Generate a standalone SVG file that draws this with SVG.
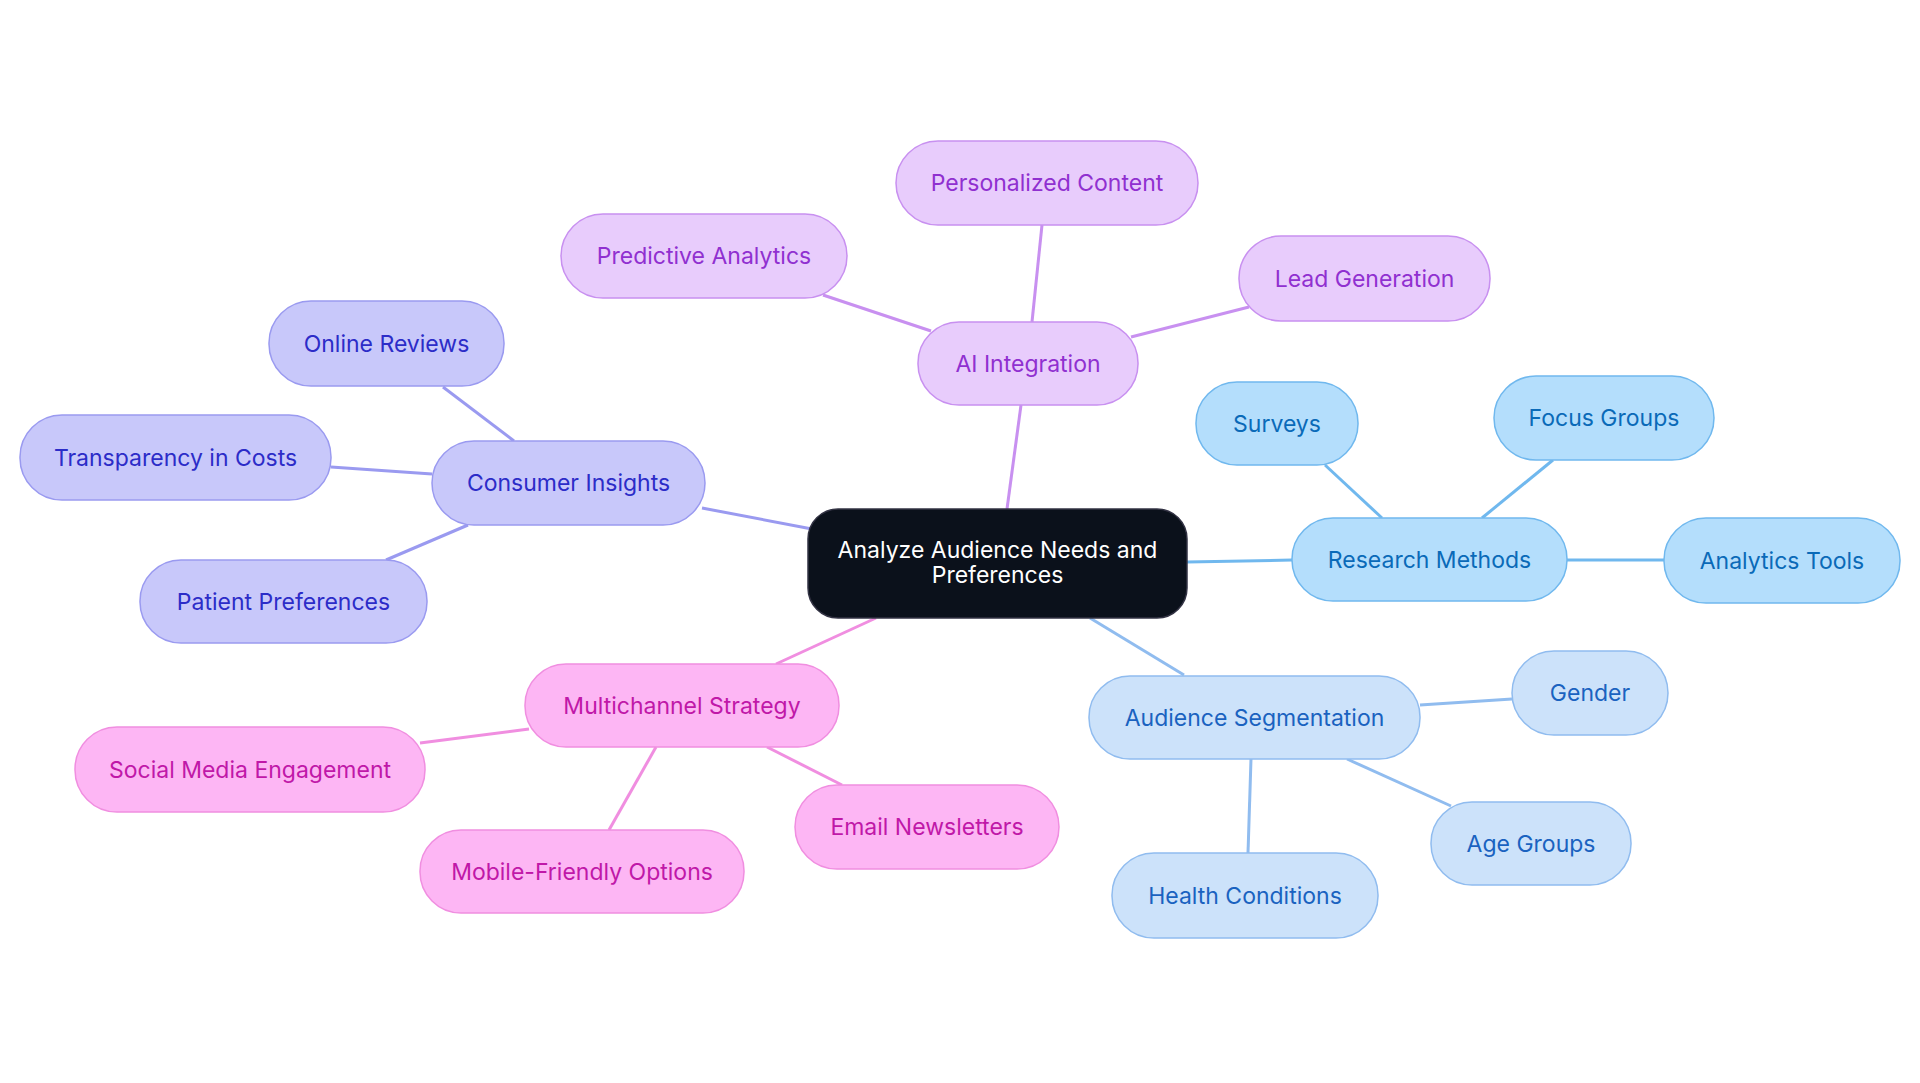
<svg xmlns="http://www.w3.org/2000/svg" width="1920" height="1083" viewBox="0 0 1920 1083">
<style>
text{font-family:Inter,"Noto Sans",sans-serif;font-size:23px;text-anchor:middle;dominant-baseline:central}
.n rect{stroke-width:1.5}
.ci rect{fill:#c8c8fa;stroke:#9a9af0}.ci text{fill:#2c2cc8}
.ai rect{fill:#e8ccfc;stroke:#c890f0}.ai text{fill:#9030d0}
.rm rect{fill:#b4defc;stroke:#70b8ee}.rm text{fill:#0a6ab8}
.as rect{fill:#cce2fa;stroke:#90bcef}.as text{fill:#1a62c0}
.ms rect{fill:#fdb6f4;stroke:#f08ee0}.ms text{fill:#c018a8}
#edges line{stroke-width:3}
.eci{stroke:#9a9af0}.eai{stroke:#c890f0}.erm{stroke:#70b8ee}.eas{stroke:#90bcef}.ems{stroke:#f08ee0}
</style>
<rect width="1920" height="1083" fill="#fff"/>
<g id="edges">
<line class="eci" x1="812" y1="529" x2="702" y2="508"/>
<line class="eci" x1="514" y1="441" x2="443" y2="387"/>
<line class="eci" x1="432" y1="474" x2="331" y2="467"/>
<line class="eci" x1="468" y1="525" x2="386" y2="560"/>
<line class="eai" x1="1007" y1="509" x2="1021" y2="405"/>
<line class="eai" x1="931" y1="331" x2="823" y2="295"/>
<line class="eai" x1="1032" y1="322" x2="1042" y2="225"/>
<line class="eai" x1="1131" y1="337" x2="1249" y2="307"/>
<line class="erm" x1="1187" y1="562" x2="1292" y2="560"/>
<line class="erm" x1="1382" y1="518" x2="1325" y2="465"/>
<line class="erm" x1="1482" y1="518" x2="1553" y2="460"/>
<line class="erm" x1="1567" y1="560" x2="1664" y2="560"/>
<line class="eas" x1="1090" y1="618" x2="1184" y2="675"/>
<line class="eas" x1="1420" y1="705" x2="1512" y2="699"/>
<line class="eas" x1="1347" y1="759" x2="1451" y2="806"/>
<line class="eas" x1="1251" y1="759" x2="1248" y2="853"/>
<line class="ems" x1="876" y1="618" x2="776" y2="664"/>
<line class="ems" x1="529" y1="729" x2="420" y2="743"/>
<line class="ems" x1="656" y1="747" x2="609" y2="830"/>
<line class="ems" x1="767" y1="747" x2="842" y2="785"/>
</g>
<g id="center"><rect x="808" y="509" width="379" height="109" rx="30" fill="#0b111b" stroke="#334" stroke-width="1.5"/><text x="997.5" y="550" fill="#fff">Analyze Audience Needs and</text><text x="997.5" y="575" fill="#fff">Preferences</text></g>
<g id="consumer-insights" class="n ci"><rect x="432" y="441" width="273" height="84" rx="42"/><text x="568.5" y="483">Consumer Insights</text></g>
<g id="online-reviews" class="n ci"><rect x="269" y="301" width="235" height="85" rx="42"/><text x="386.5" y="343.5">Online Reviews</text></g>
<g id="transparency" class="n ci"><rect x="20" y="415" width="311" height="85" rx="42"/><text x="175.5" y="457.5">Transparency in Costs</text></g>
<g id="patient-preferences" class="n ci"><rect x="140" y="560" width="287" height="83" rx="41"/><text x="283.5" y="601.5">Patient Preferences</text></g>
<g id="ai-integration" class="n ai"><rect x="918" y="322" width="220" height="83" rx="41"/><text x="1028" y="363.5">AI Integration</text></g>
<g id="predictive-analytics" class="n ai"><rect x="561" y="214" width="286" height="84" rx="42"/><text x="704" y="256">Predictive Analytics</text></g>
<g id="personalized-content" class="n ai"><rect x="896" y="141" width="302" height="84" rx="42"/><text x="1047" y="183">Personalized Content</text></g>
<g id="lead-generation" class="n ai"><rect x="1239" y="236" width="251" height="85" rx="42"/><text x="1364.5" y="278.5">Lead Generation</text></g>
<g id="research-methods" class="n rm"><rect x="1292" y="518" width="275" height="83" rx="41"/><text x="1429.5" y="559.5">Research Methods</text></g>
<g id="surveys" class="n rm"><rect x="1196" y="382" width="162" height="83" rx="41"/><text x="1277" y="423.5">Surveys</text></g>
<g id="focus-groups" class="n rm"><rect x="1494" y="376" width="220" height="84" rx="42"/><text x="1604" y="418">Focus Groups</text></g>
<g id="analytics-tools" class="n rm"><rect x="1664" y="518" width="236" height="85" rx="42"/><text x="1782" y="560.5">Analytics Tools</text></g>
<g id="audience-segmentation" class="n as"><rect x="1089" y="676" width="331" height="83" rx="41"/><text x="1254.5" y="717.5">Audience Segmentation</text></g>
<g id="gender" class="n as"><rect x="1512" y="651" width="156" height="84" rx="42"/><text x="1590" y="693">Gender</text></g>
<g id="age-groups" class="n as"><rect x="1431" y="802" width="200" height="83" rx="41"/><text x="1531" y="843.5">Age Groups</text></g>
<g id="health-conditions" class="n as"><rect x="1112" y="853" width="266" height="85" rx="42"/><text x="1245" y="895.5">Health Conditions</text></g>
<g id="multichannel-strategy" class="n ms"><rect x="525" y="664" width="314" height="83" rx="41"/><text x="682" y="705.5">Multichannel Strategy</text></g>
<g id="social-media" class="n ms"><rect x="75" y="727" width="350" height="85" rx="42"/><text x="250" y="769.5">Social Media Engagement</text></g>
<g id="mobile-friendly" class="n ms"><rect x="420" y="830" width="324" height="83" rx="41"/><text x="582" y="871.5">Mobile-Friendly Options</text></g>
<g id="email-newsletters" class="n ms"><rect x="795" y="785" width="264" height="84" rx="42"/><text x="927" y="827">Email Newsletters</text></g>
</svg>
